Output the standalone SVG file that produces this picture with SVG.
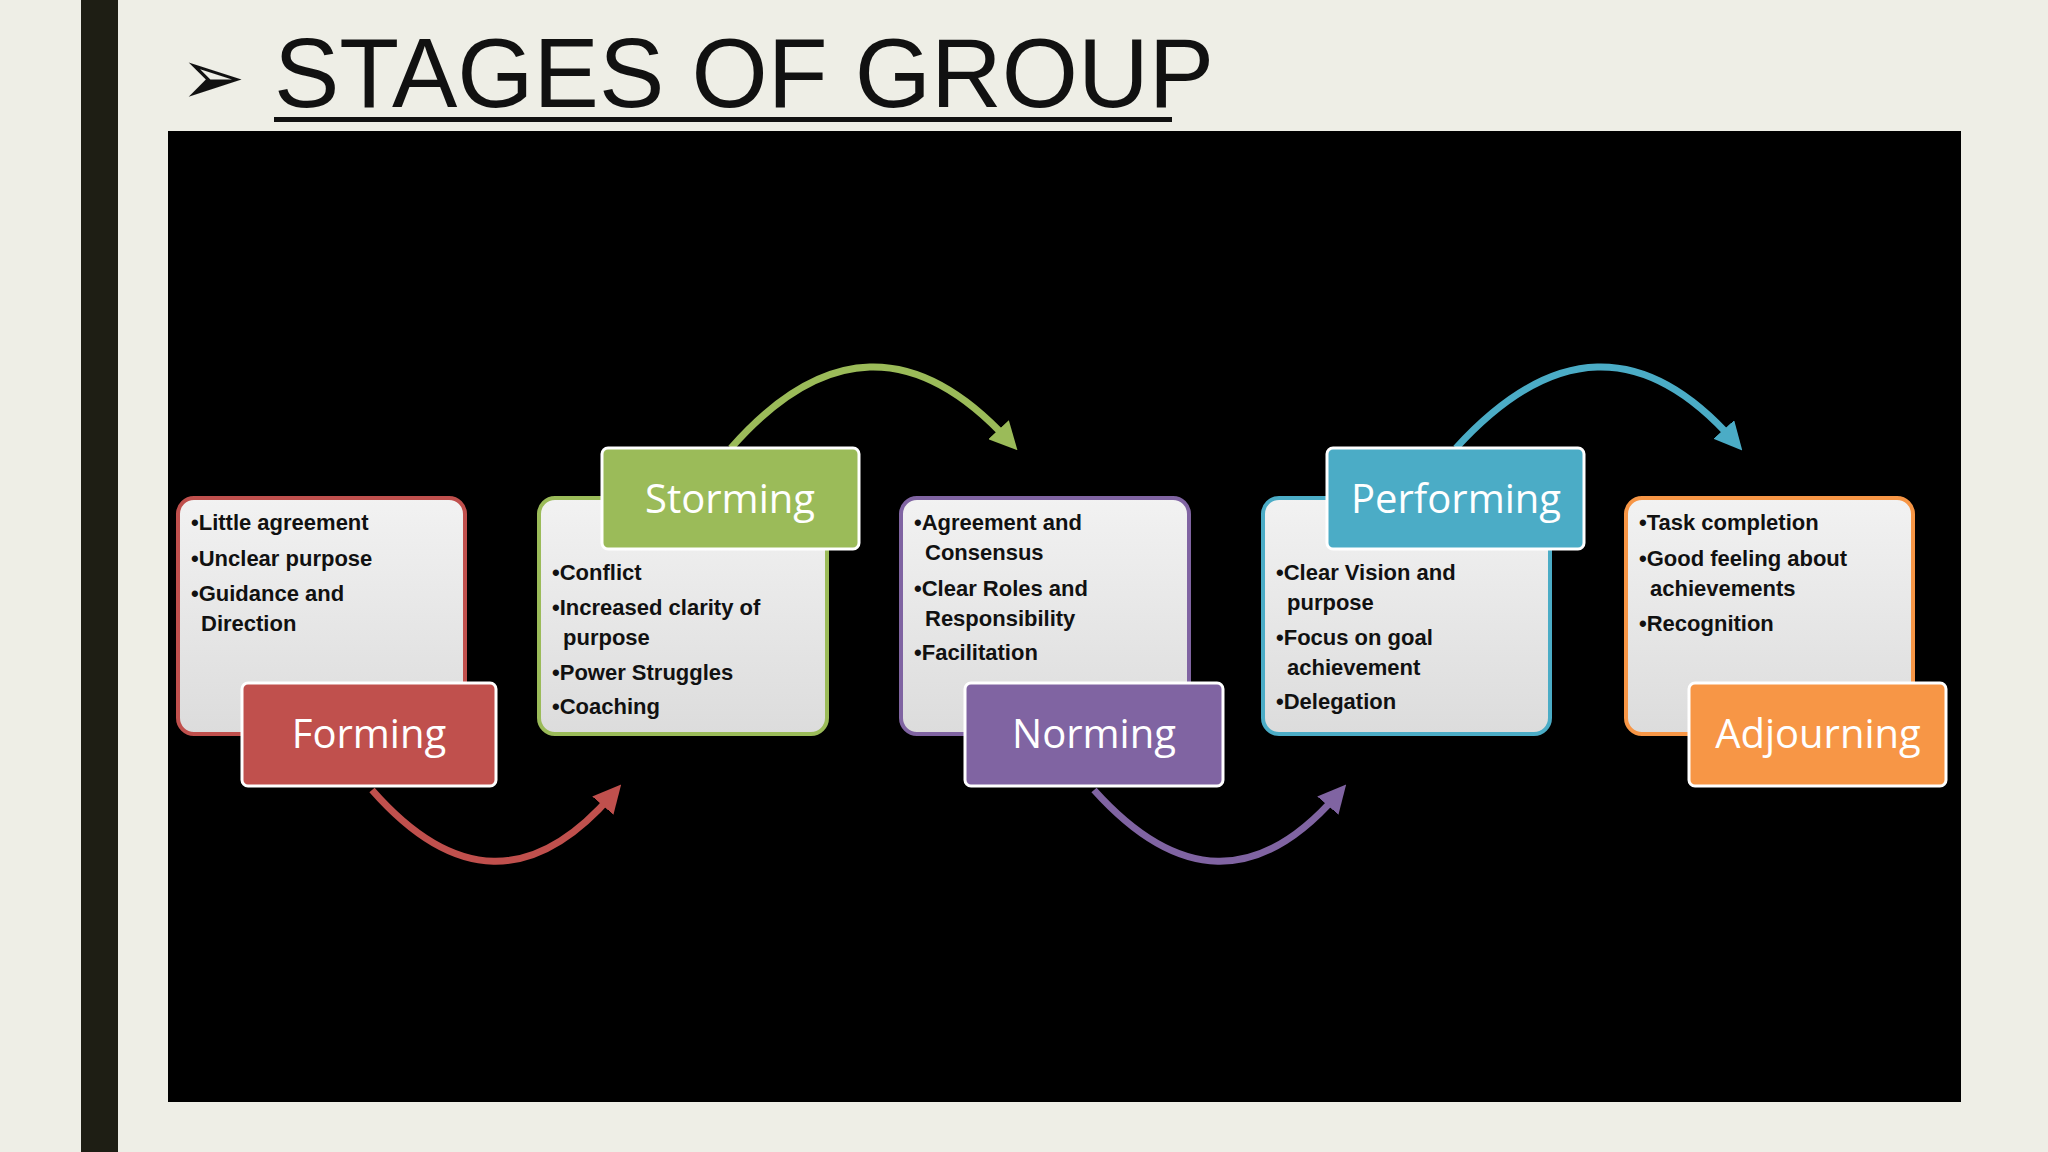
<svg xmlns="http://www.w3.org/2000/svg" width="2048" height="1152" viewBox="0 0 2048 1152">
<style>
.tb{stroke-width:4}
.bt{font-family:"Liberation Sans",Arial,sans-serif;font-weight:bold;font-size:22px;fill:#111}
.lb{stroke:#fff;stroke-width:3}
.lt{font-family:"Open Sans","Liberation Sans",sans-serif;font-size:40px;fill:#fff;text-anchor:middle}
.arc{fill:none;stroke-width:7}
</style>
<defs>
<linearGradient id="g" x1="0" y1="0" x2="0" y2="1"><stop offset="0" stop-color="#f2f2f2"/><stop offset="1" stop-color="#dcdcdc"/></linearGradient>
<marker id="mr" viewBox="0 0 10 10" refX="5" refY="5" markerWidth="4" markerHeight="4" orient="auto"><path d="M0 0L10 5L0 10z" fill="#c0504d"/></marker>
<marker id="mg" viewBox="0 0 10 10" refX="5" refY="5" markerWidth="4" markerHeight="4" orient="auto"><path d="M0 0L10 5L0 10z" fill="#9bbb59"/></marker>
<marker id="mp" viewBox="0 0 10 10" refX="5" refY="5" markerWidth="4" markerHeight="4" orient="auto"><path d="M0 0L10 5L0 10z" fill="#8064a2"/></marker>
<marker id="mb" viewBox="0 0 10 10" refX="5" refY="5" markerWidth="4" markerHeight="4" orient="auto"><path d="M0 0L10 5L0 10z" fill="#4bacc6"/></marker>
</defs>
<rect width="2048" height="1152" fill="#eeeee6"/>
<rect x="81" y="0" width="37" height="1152" fill="#1e1e14"/>
<text x="180" y="104" font-family="DejaVu Sans,sans-serif" font-size="78" fill="#111">➢</text>
<text x="274" y="107" font-family="Liberation Sans,Arial,sans-serif" font-size="98" fill="#111">STAGES OF GROUP</text>
<rect x="274" y="117" width="898" height="5" fill="#111"/>
<rect x="168" y="131" width="1793" height="971" fill="#000"/>
<g id="connectors">
<path class="arc" stroke="#c0504d" d="M372 790 Q495 930 612 795" marker-end="url(#mr)"/>
<path class="arc" stroke="#9bbb59" d="M731 448 Q870 290 1008 440" marker-end="url(#mg)"/>
<path class="arc" stroke="#8064a2" d="M1094 790 Q1220 930 1337 795" marker-end="url(#mp)"/>
<path class="arc" stroke="#4bacc6" d="M1456 448 Q1600 290 1733 440" marker-end="url(#mb)"/>
</g>
<g id="forming">
<rect class="tb" x="178" y="498" width="287" height="236" rx="16" fill="url(#g)" stroke="#c0504d"/>
<text class="bt"><tspan x="191" y="530">•Little agreement</tspan><tspan x="191" y="566">•Unclear purpose</tspan><tspan x="191" y="601">•Guidance and</tspan><tspan x="201" y="631">Direction</tspan></text>
<rect class="lb" x="242" y="683" width="254" height="103" rx="6" fill="#c0504d"/>
<text class="lt" x="369" y="748">Forming</text>
</g>
<g id="storming">
<rect class="tb" x="539" y="498" width="288" height="236" rx="16" fill="url(#g)" stroke="#9bbb59"/>
<text class="bt"><tspan x="552" y="580">•Conflict</tspan><tspan x="552" y="615">•Increased clarity of</tspan><tspan x="563" y="645">purpose</tspan><tspan x="552" y="680">•Power Struggles</tspan><tspan x="552" y="714">•Coaching</tspan></text>
<rect class="lb" x="602" y="448" width="257" height="101" rx="6" fill="#9bbb59"/>
<text class="lt" x="730" y="513">Storming</text>
</g>
<g id="norming">
<rect class="tb" x="901" y="498" width="288" height="236" rx="16" fill="url(#g)" stroke="#8064a2"/>
<text class="bt"><tspan x="914" y="530">•Agreement and</tspan><tspan x="925" y="560">Consensus</tspan><tspan x="914" y="596">•Clear Roles and</tspan><tspan x="925" y="626">Responsibility</tspan><tspan x="914" y="660">•Facilitation</tspan></text>
<rect class="lb" x="965" y="683" width="258" height="103" rx="6" fill="#8064a2"/>
<text class="lt" x="1094" y="748">Norming</text>
</g>
<g id="performing">
<rect class="tb" x="1263" y="498" width="287" height="236" rx="16" fill="url(#g)" stroke="#4bacc6"/>
<text class="bt"><tspan x="1276" y="580">•Clear Vision and</tspan><tspan x="1287" y="610">purpose</tspan><tspan x="1276" y="645">•Focus on goal</tspan><tspan x="1287" y="675">achievement</tspan><tspan x="1276" y="709">•Delegation</tspan></text>
<rect class="lb" x="1327" y="448" width="257" height="101" rx="6" fill="#4bacc6"/>
<text class="lt" x="1456" y="513">Performing</text>
</g>
<g id="adjourning">
<rect class="tb" x="1626" y="498" width="287" height="236" rx="16" fill="url(#g)" stroke="#f79646"/>
<text class="bt"><tspan x="1639" y="530">•Task completion</tspan><tspan x="1639" y="566">•Good feeling about</tspan><tspan x="1650" y="596">achievements</tspan><tspan x="1639" y="631">•Recognition</tspan></text>
<rect class="lb" x="1689" y="683" width="257" height="103" rx="6" fill="#f79646"/>
<text class="lt" x="1818" y="748">Adjourning</text>
</g>
</svg>
